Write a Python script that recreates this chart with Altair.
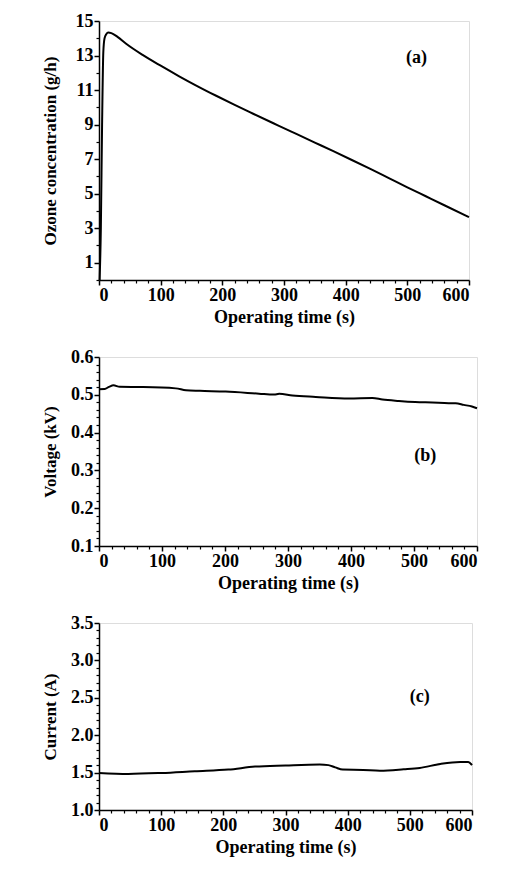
import altair as alt
import pandas as pd

# ---- data ----
a_t = [1, 3, 5, 7, 9, 12, 15, 20, 30, 44, 70, 100, 130, 160, 190, 220, 250, 290, 320, 350, 380, 410, 440, 470, 500, 530, 560, 600]
a_v = [0.0, 3.0, 9.0, 13.2, 14.0, 14.25, 14.33, 14.3, 14.08, 13.68, 13.05, 12.41, 11.8, 11.22, 10.67, 10.14, 9.63, 8.96, 8.46, 7.96, 7.46, 6.95, 6.43, 5.9, 5.37, 4.85, 4.33, 3.64]

b_t = [0, 9, 16, 23, 33, 70, 122, 138, 160, 201, 254, 278, 286, 307, 344, 397, 434, 450, 476, 502, 529, 555, 566, 579, 592, 600]
b_v = [0.515, 0.5155, 0.521, 0.525, 0.521, 0.5205, 0.517, 0.512, 0.5105, 0.5086, 0.503, 0.5005, 0.5025, 0.498, 0.4944, 0.4905, 0.4915, 0.4875, 0.4838, 0.481, 0.4795, 0.4777, 0.4775, 0.4733, 0.469, 0.4645]

c_t = [0, 47, 101, 154, 208, 251, 300, 355, 369, 380, 392, 425, 452, 490, 516, 549, 581, 594, 600]
c_v = [1.495, 1.482, 1.495, 1.518, 1.54, 1.58, 1.595, 1.607, 1.6, 1.57, 1.54, 1.535, 1.526, 1.544, 1.562, 1.616, 1.643, 1.642, 1.6]

x_major = [0, 100, 200, 300, 400, 500, 600]
x_minor = [20, 40, 60, 80, 120, 140, 160, 180, 220, 240, 260, 280, 320, 340, 360, 380, 420, 440, 460, 480, 520, 540, 560, 580]

a_major = [1, 3, 5, 7, 9, 11, 13, 15]
a_minor = [0, 2, 4, 6, 8, 10, 12, 14]
b_major = [0.1, 0.2, 0.3, 0.4, 0.5, 0.6]
b_minor = [0.12, 0.14, 0.16, 0.18, 0.22, 0.24, 0.26, 0.28, 0.32, 0.34, 0.36, 0.38,
           0.42, 0.44, 0.46, 0.48, 0.52, 0.54, 0.56, 0.58]
c_major = [1.0, 1.5, 2.0, 2.5, 3.0, 3.5]
c_minor = [1.1, 1.2, 1.3, 1.4, 1.6, 1.7, 1.8, 1.9, 2.1, 2.2, 2.3, 2.4, 2.6, 2.7, 2.8, 2.9, 3.1, 3.2, 3.3, 3.4]

x_title = "Operating time (s)"
FONT = "Liberation Serif"


def panel(ts, vs, ydomain, ymajor, yminor, yfmt, ytitle, tag, tag_t, tag_v, width, height):
    df = pd.DataFrame({"t": ts, "v": vs})
    xs = alt.Scale(domain=[0, 600], nice=False, zero=False)
    ys = alt.Scale(domain=ydomain, nice=False, zero=False)
    line = alt.Chart(df).mark_line(color="black", strokeWidth=2, interpolate="monotone").encode(
        x=alt.X("t:Q", scale=xs, axis=alt.Axis(
            values=x_major, format="d", title=x_title, tickSize=5, labelPadding=1,
            titlePadding=4, domainColor="black", domainWidth=1.5, tickColor="black",
            tickWidth=1.5, labelColor="black", titleColor="black", grid=False,
            labelFont=FONT, labelFontSize=18, labelFontWeight="bold",
            titleFont=FONT, titleFontSize=18, titleFontWeight="bold")),
        y=alt.Y("v:Q", scale=ys, axis=alt.Axis(
            values=ymajor, format=yfmt, title=ytitle, tickSize=5, labelPadding=1,
            titleX=-49, titleBaseline="middle", domainColor="black", domainWidth=1.5,
            tickColor="black", tickWidth=1.5, labelColor="black", titleColor="black",
            grid=False, labelFont=FONT, labelFontSize=18, labelFontWeight="bold",
            titleFont=FONT, titleFontSize=17, titleFontWeight="bold")),
    )
    minor = alt.Chart(df).mark_point(opacity=0).encode(
        x=alt.X("t:Q", scale=xs, axis=alt.Axis(
            values=x_minor, labels=False, domain=False, title=None, tickSize=3,
            tickColor="black", tickWidth=1.2, grid=False, orient="bottom")),
        y=alt.Y("v:Q", scale=ys, axis=alt.Axis(
            values=yminor, labels=False, domain=False, title=None, tickSize=3,
            tickColor="black", tickWidth=1.2, grid=False, orient="left")),
    )
    tdf = pd.DataFrame({"t": [tag_t], "v": [tag_v], "label": [tag]})
    text = alt.Chart(tdf).mark_text(font=FONT, fontSize=18, fontWeight="bold", color="black").encode(
        x=alt.X("t:Q", scale=xs, axis=None),
        y=alt.Y("v:Q", scale=ys, axis=None),
        text="label:N",
    )
    return alt.layer(line, minor, text).resolve_axis(x="independent", y="independent").properties(
        width=width, height=height)


pa = panel(a_t, a_v, [0, 15], a_major, a_minor, "d", "Ozone  concentration (g/h)", "(a)", 515, 12.86, 370, 259)
pb = panel(b_t, b_v, [0.1, 0.6], b_major, b_minor, ".1f", "Voltage (kV)", "(b)", 518, 0.338, 378, 189)
pc = panel(c_t, c_v, [1.0, 3.5], c_major, c_minor, ".1f", "Current (A)", "(c)", 516, 2.513, 373, 187)

chart = alt.vconcat(pa, pb, pc, spacing=20).properties(
    padding={"left": 32, "top": 3, "right": 5, "bottom": 5}
).configure_view(stroke="black", strokeWidth=1.5).configure(background="white")

chart.save("out.html", embed_options={"renderer": "svg", "actions": False})
